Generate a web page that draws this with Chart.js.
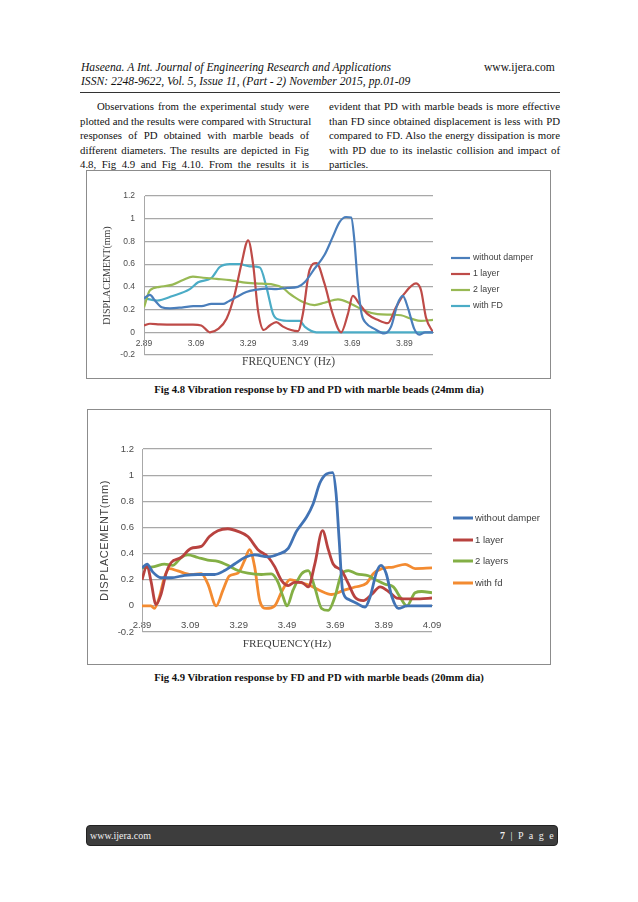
<!DOCTYPE html>
<html><head><meta charset="utf-8">
<script src="https://cdn.jsdelivr.net/npm/chart.js@4.4.1/dist/chart.umd.min.js"></script>
<style>
html,body{margin:0;padding:0;background:#fff;}
body{width:638px;height:902px;position:relative;overflow:hidden;font-family:"Liberation Serif","Times New Roman",serif;color:#111;}
.t{position:absolute;white-space:nowrap;line-height:14px;}
.hdr{font-style:italic;font-size:11.6px;}
.ln{position:absolute;white-space:nowrap;font-size:10.8px;line-height:14px;text-align:justify;text-align-last:justify;}
.cap{position:absolute;left:0;width:638px;text-align:center;font-weight:bold;font-size:10.7px;line-height:14px;}
.frame{position:absolute;border:1px solid #8c8c8c;box-sizing:border-box;pointer-events:none;}
.cw{position:absolute;}
</style>
</head>
<body>
<div class="t hdr" style="left:81px;top:61px;">Haseena. A Int. Journal of Engineering Research and Applications</div>
<div class="t" style="left:484px;top:61px;font-size:11.6px;">www.ijera.com</div>
<div class="t hdr" style="left:81px;top:74.5px;">ISSN: 2248-9622, Vol. 5, Issue 11, (Part - 2) November 2015, pp.01-09</div>
<div style="position:absolute;left:80px;top:92px;width:480px;height:1px;background:#333;"></div>

<div class="ln" style="left:97px;width:212px;top:99px;">Observations from the experimental study were</div>
<div class="ln" style="left:80px;width:229px;top:113.5px;">plotted and the results were compared with Structural</div>
<div class="ln" style="left:80px;width:229px;top:128px;">responses of PD obtained with marble beads of</div>
<div class="ln" style="left:80px;width:229px;top:142.5px;">different diameters. The results are depicted in Fig</div>
<div class="ln" style="left:80px;width:229px;top:157px;">4.8, Fig 4.9 and Fig 4.10. From the results it is</div>

<div class="ln" style="left:329px;width:231px;top:99px;">evident that PD with marble beads is more effective</div>
<div class="ln" style="left:329px;width:231px;top:113.5px;">than FD since obtained displacement is less with PD</div>
<div class="ln" style="left:329px;width:231px;top:128px;">compared to FD. Also the energy dissipation is more</div>
<div class="ln" style="left:329px;width:231px;top:142.5px;">with PD due to its inelastic collision and impact of</div>
<div class="ln" style="left:329px;width:231px;top:157px;text-align-last:left;">particles.</div>

<div class="cw" style="left:86px;top:170px;width:465px;height:209px;"><canvas id="c1" width="465" height="209"></canvas></div>
<div class="frame" style="left:86px;top:170px;width:465px;height:209px;"></div>
<div class="cap" style="top:382px;">Fig 4.8 Vibration response by FD and PD with marble beads (24mm dia)</div>

<div class="cw" style="left:87px;top:409px;width:464px;height:256px;"><canvas id="c2" width="464" height="256"></canvas></div>
<div class="frame" style="left:87px;top:409px;width:464px;height:256px;"></div>
<div class="cap" style="top:670px;">Fig 4.9 Vibration response by FD and PD with marble beads (20mm dia)</div>

<div style="position:absolute;left:86px;top:825px;width:472px;height:21px;background:#3d3d3d;border-radius:4px;border:1px solid #222;box-sizing:border-box;"></div>
<div class="t" style="left:90px;top:829px;font-size:10px;color:#f0f0f0;">www.ijera.com</div>
<div class="t" style="left:500px;top:829px;width:47px;text-align:right;font-size:10px;color:#f0f0f0;letter-spacing:1.5px;"><b>7</b> | P a g e</div>

<script>
// ---------- DATA ----------
const X_TICKS_1 = [2.89, 3.09, 3.29, 3.49, 3.69, 3.89];
const X_TICK_LABELS_1 = ['2.89', '3.09', '3.29', '3.49', '3.69', '3.89'];
const X_TICKS_2 = [2.89, 3.09, 3.29, 3.49, 3.69, 3.89, 4.09];
const X_TICK_LABELS_2 = ['2.89', '3.09', '3.29', '3.49', '3.69', '3.89', '4.09'];
const Y_TICKS = [-0.2, 0, 0.2, 0.4, 0.6, 0.8, 1, 1.2];
const Y_TICK_LABELS = ['-0.2', '0', '0.2', '0.4', '0.6', '0.8', '1', '1.2'];
const SERIES_1 = ['without damper', '1 layer', '2 layer', 'with FD'];
const SERIES_2 = ['without damper', '1 layer', '2 layers', 'with fd'];

// Fig 4.8 (24mm dia)
const f1_noDamper_x = [2.89,2.913,2.932,2.958,2.99,3.04,3.079,3.111,3.149,3.194,3.213,3.245,3.283,3.322,3.36,3.398,3.437,3.481,3.507,3.545,3.583,3.615,3.641,3.666,3.686,3.698,3.711,3.726,3.743,3.775,3.813,3.839,3.864,3.884,3.903,3.928,3.947,3.97,4.0];
const f1_noDamper_y = [0.30,0.33,0.28,0.22,0.21,0.22,0.23,0.23,0.25,0.25,0.27,0.31,0.355,0.375,0.385,0.38,0.39,0.40,0.44,0.56,0.68,0.84,0.97,1.015,1.01,0.81,0.43,0.16,0.08,0.03,-0.01,0.05,0.25,0.32,0.22,0.03,-0.02,0.0,0.0];
const f1_layer1_x = [2.89,2.913,2.95,3.0,3.078,3.11,3.143,3.175,3.207,3.239,3.264,3.29,3.309,3.328,3.35,3.373,3.398,3.424,3.455,3.481,3.5,3.526,3.552,3.583,3.615,3.647,3.673,3.692,3.717,3.749,3.787,3.826,3.858,3.89,3.935,3.954,3.973,4.0];
const f1_layer1_y = [0.06,0.075,0.07,0.067,0.067,0.06,0.0,0.03,0.12,0.34,0.6,0.81,0.6,0.19,0.02,0.06,0.09,0.05,0.02,0.01,0.16,0.55,0.61,0.43,0.16,0.0,0.16,0.32,0.25,0.16,0.11,0.08,0.22,0.34,0.43,0.37,0.13,0.0];
const f1_layer2_x = [2.89,2.913,2.95,3.0,3.04,3.078,3.117,3.169,3.22,3.27,3.32,3.386,3.424,3.449,3.468,3.507,3.545,3.583,3.635,3.686,3.737,3.787,3.839,3.877,3.916,3.954,4.0];
const f1_layer2_y = [0.22,0.37,0.40,0.42,0.46,0.49,0.48,0.47,0.46,0.44,0.43,0.42,0.39,0.34,0.31,0.26,0.24,0.26,0.29,0.25,0.19,0.16,0.155,0.15,0.12,0.10,0.11];
const f1_fd_x = [2.89,2.94,3.0,3.066,3.098,3.15,3.181,3.22,3.258,3.296,3.335,3.36,3.386,3.411,3.449,3.488,3.507,3.552,3.6,3.7,3.8,3.9,4.0];
const f1_fd_y = [0.30,0.28,0.32,0.38,0.44,0.48,0.575,0.60,0.60,0.58,0.57,0.40,0.16,0.11,0.10,0.10,0.05,0.0,0.0,0.0,0.0,0.0,0.0];

// Fig 4.9 (20mm dia)
const f2_noDamper_x = [2.89,2.911,2.934,2.969,3.01,3.066,3.121,3.19,3.232,3.273,3.315,3.356,3.411,3.453,3.495,3.529,3.571,3.598,3.626,3.654,3.679,3.693,3.706,3.72,3.744,3.778,3.813,3.834,3.861,3.879,3.9,3.924,3.951,3.986,4.09];
const f2_noDamper_y = [0.29,0.32,0.26,0.215,0.215,0.233,0.24,0.24,0.27,0.32,0.37,0.39,0.375,0.395,0.44,0.57,0.68,0.78,0.94,1.01,1.02,0.86,0.50,0.12,0.05,0.02,-0.01,0.07,0.26,0.31,0.25,0.07,-0.02,0.0,0.0];
const f2_layer1_x = [2.89,2.911,2.927,2.948,2.969,2.99,3.01,3.052,3.093,3.135,3.169,3.204,3.245,3.287,3.328,3.37,3.411,3.439,3.467,3.495,3.522,3.55,3.578,3.605,3.637,3.661,3.681,3.716,3.744,3.771,3.806,3.84,3.875,3.91,3.944,3.986,4.041,4.09];
const f2_layer1_y = [0.2,0.31,0.19,0.01,0.09,0.25,0.33,0.37,0.44,0.455,0.53,0.575,0.59,0.57,0.53,0.43,0.375,0.30,0.195,0.155,0.18,0.18,0.145,0.32,0.575,0.43,0.32,0.27,0.17,0.067,0.04,0.087,0.145,0.11,0.06,0.054,0.054,0.06];
const f2_layer2_x = [2.89,2.941,2.983,3.017,3.052,3.079,3.121,3.162,3.204,3.245,3.287,3.328,3.384,3.425,3.453,3.474,3.49,3.515,3.55,3.578,3.605,3.633,3.661,3.688,3.716,3.744,3.778,3.827,3.861,3.896,3.93,3.958,3.986,4.02,4.048,4.09];
const f2_layer2_y = [0.29,0.30,0.32,0.31,0.37,0.39,0.37,0.35,0.34,0.31,0.27,0.25,0.24,0.245,0.18,0.067,0.0,0.12,0.245,0.27,0.14,-0.02,-0.035,0.067,0.245,0.27,0.245,0.23,0.195,0.165,0.145,0.067,0.0,0.1,0.11,0.1];
const f2_fd_x = [2.89,2.927,2.941,2.962,2.983,3.003,3.038,3.093,3.135,3.162,3.197,3.225,3.252,3.287,3.315,3.335,3.356,3.377,3.404,3.439,3.467,3.49,3.502,3.543,3.585,3.626,3.675,3.723,3.771,3.82,3.847,3.882,3.93,3.979,4.02,4.09];
const f2_fd_y = [0.0,0.0,-0.02,0.067,0.22,0.285,0.267,0.24,0.246,0.17,0.0,0.12,0.23,0.25,0.35,0.43,0.30,0.04,-0.02,0.0,0.105,0.18,0.2,0.18,0.156,0.118,0.087,0.118,0.144,0.174,0.246,0.285,0.297,0.318,0.285,0.29];

// ---------- BUILD ----------
const pts = (xs, ys) => xs.map((x, i) => ({x: x, y: ys[i]}));

const decor = {
  id: 'decor',
  afterDraw(chart, args, o) {
    const ctx = chart.ctx, ca = chart.chartArea;
    ctx.save();
    ctx.fillStyle = o.titleColor;
    ctx.textAlign = 'center'; ctx.textBaseline = 'middle';
    ctx.font = o.xTitleFont;
    ctx.fillText(o.xTitle, (ca.left + ca.right) / 2, o.xTitleY);
    ctx.save();
    ctx.translate(o.yTitleX, (ca.top + ca.bottom) / 2);
    ctx.rotate(-Math.PI / 2);
    ctx.font = o.yTitleFont;
    if (o.yTitleSpacing) ctx.letterSpacing = o.yTitleSpacing;
    ctx.fillText(o.yTitle, 0, 0);
    ctx.restore();
    // legend
    ctx.font = o.legendFont;
    ctx.textAlign = 'left';
    chart.data.datasets.forEach((ds, i) => {
      const y = o.legendY[i];
      ctx.strokeStyle = ds.borderColor;
      ctx.lineWidth = o.legendLineWidth;
      ctx.beginPath();
      ctx.moveTo(ca.right + o.legendX0, y);
      ctx.lineTo(ca.right + o.legendX1, y);
      ctx.stroke();
      ctx.fillStyle = o.legendColor;
      ctx.fillText(ds.label, ca.right + o.legendTX, y);
    });
    ctx.restore();
  }
};

function makeChart(id, cfg) {
  const ds = cfg.series.map((s, i) => ({
    label: s.name,
    data: pts(s.x, s.y),
    borderColor: s.color,
    backgroundColor: s.color,
    borderWidth: cfg.lineWidth,
    pointRadius: 0,
    fill: false,
    cubicInterpolationMode: 'monotone'
  }));
  return new Chart(document.getElementById(id), {
    type: 'line',
    data: { datasets: ds },
    plugins: [decor],
    options: {
      responsive: false,
      animation: false,
      events: [],
      layout: { padding: cfg.padding },
      plugins: {
        legend: { display: false },
        tooltip: { enabled: false },
        decor: cfg.decor
      },
      scales: {
        x: {
          type: 'linear',
          position: { y: 0 },
          min: cfg.xTicks[0],
          max: cfg.xMax,
          afterBuildTicks: s => { s.ticks = cfg.xTicks.map(v => ({ value: v })); },
          ticks: {
            autoSkip: false, maxRotation: 0, minRotation: 0,
            padding: cfg.xTickPad,
            color: '#4d4d4d',
            font: { family: 'Liberation Sans', size: cfg.tickSize },
            callback: (v, i) => cfg.xLabels[i]
          },
          grid: { display: false, drawTicks: false },
          border: { display: true, color: '#a8a8a8', width: 1 }
        },
        y: {
          type: 'linear',
          min: -0.2, max: 1.2,
          afterBuildTicks: s => { s.ticks = Y_TICKS.map(v => ({ value: v })); },
          afterFit: s => { s.width = cfg.yWidth; },
          ticks: {
            padding: cfg.yTickPad,
            color: '#4d4d4d',
            font: { family: 'Liberation Sans', size: cfg.tickSize },
            callback: (v, i) => Y_TICK_LABELS[i]
          },
          grid: { color: '#a8a8a8', lineWidth: 1.2, drawTicks: false },
          border: { display: true, color: '#a8a8a8', width: 1 }
        }
      }
    }
  });
}

makeChart('c1', {
  series: [
    { name: SERIES_1[0], x: f1_noDamper_x, y: f1_noDamper_y, color: '#4A7EBB' },
    { name: SERIES_1[1], x: f1_layer1_x, y: f1_layer1_y, color: '#BE4B48' },
    { name: SERIES_1[2], x: f1_layer2_x, y: f1_layer2_y, color: '#98B954' },
    { name: SERIES_1[3], x: f1_fd_x, y: f1_fd_y, color: '#4BACC6' }
  ],
  lineWidth: 2.2,
  xTicks: X_TICKS_1, xLabels: X_TICK_LABELS_1, xMax: 4.0,
  padding: { left: 0, top: 26, right: 118, bottom: 24 },
  yWidth: 58,
  xTickPad: 6, yTickPad: 9, tickSize: 8.5,
  decor: {
    titleColor: '#404040',
    xTitle: 'FREQUENCY (Hz)', xTitleFont: '11.5px "Liberation Serif"', xTitleY: 192,
    yTitle: 'DISPLACEMENT(mm)', yTitleFont: '10px "Liberation Serif"', yTitleX: 21,
    legendFont: '8.8px "Liberation Sans"', legendColor: '#404040',
    legendY: [88, 104, 120, 136], legendX0: 18, legendX1: 37, legendTX: 40, legendLineWidth: 2.2
  }
});

makeChart('c2', {
  series: [
    { name: SERIES_2[0], x: f2_noDamper_x, y: f2_noDamper_y, color: '#4173B5' },
    { name: SERIES_2[1], x: f2_layer1_x, y: f2_layer1_y, color: '#B8423F' },
    { name: SERIES_2[2], x: f2_layer2_x, y: f2_layer2_y, color: '#83AF45' },
    { name: SERIES_2[3], x: f2_fd_x, y: f2_fd_y, color: '#F38B31' }
  ],
  lineWidth: 2.8,
  xTicks: X_TICKS_2, xLabels: X_TICK_LABELS_2, xMax: 4.09,
  padding: { left: 0, top: 40, right: 119, bottom: 33 },
  yWidth: 55,
  xTickPad: 14, yTickPad: 8, tickSize: 9.5,
  decor: {
    titleColor: '#404040',
    xTitle: 'FREQUENCY(Hz)', xTitleFont: '11.3px "Liberation Serif"', xTitleY: 235,
    yTitle: 'DISPLACEMENT(mm)', yTitleFont: '11px "Liberation Sans"', yTitleX: 18, yTitleSpacing: '0.6px',
    legendFont: '9.5px "Liberation Sans"', legendColor: '#404040',
    legendY: [109, 131, 152, 174], legendX0: 21, legendX1: 41, legendTX: 43, legendLineWidth: 3
  }
});
</script>
</body></html>
